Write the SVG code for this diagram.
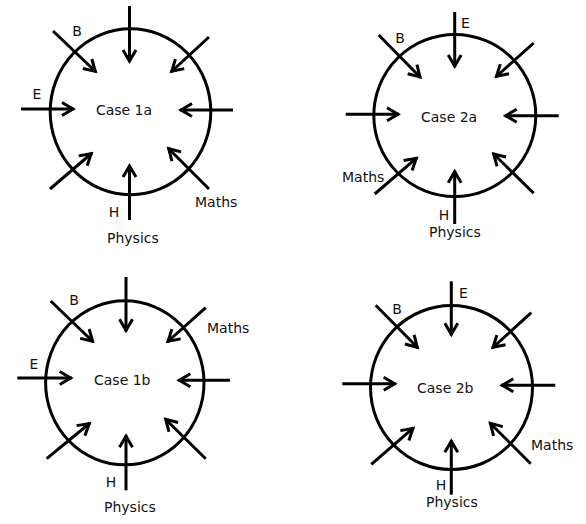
<svg xmlns="http://www.w3.org/2000/svg" width="586" height="524" viewBox="0 0 586 524">
<style>
.ring{fill:none;stroke:#000;stroke-width:3}
.arr{fill:none;stroke:#000;stroke-width:3;marker-end:url(#ah)}
text{font-family:"DejaVu Sans","Verdana",sans-serif;font-size:14px;fill:#111}
.c{text-anchor:middle}
</style>
<defs>
<marker id="ah" markerUnits="userSpaceOnUse" markerWidth="30" markerHeight="30" refX="0" refY="0" orient="auto" viewBox="-20 -15 30 30" overflow="visible">
<path d="M-12,-6.5 L-1,0 L-12,6.5" fill="none" stroke="#000" stroke-width="3" stroke-linejoin="miter"/>
</marker>
</defs>
<rect width="586" height="524" fill="#fff"/>

<g id="case1a">
<ellipse class="ring" cx="130.5" cy="111.7" rx="80.3" ry="83"/>
<text x="124" y="115" class="c">Case 1a</text>
<text x="77" y="36" class="c">B</text>
<text x="37" y="99" class="c">E</text>
<text x="195" y="207">Maths</text>
<text x="114" y="217" class="c">H</text>
<text x="107" y="243">Physics</text>
</g>

<g id="case2a">
<ellipse class="ring" cx="454.8" cy="115.5" rx="81" ry="81"/>
<text x="421" y="122">Case 2a</text>
<text x="400" y="43" class="c">B</text>
<text x="461" y="28">E</text>
<text x="342" y="182">Maths</text>
<text x="444" y="220" class="c">H</text>
<text x="429" y="237">Physics</text>
</g>

<g id="case1b">
<ellipse class="ring" cx="124.8" cy="382.8" rx="79.2" ry="82"/>
<text x="94" y="385">Case 1b</text>
<text x="74" y="305" class="c">B</text>
<text x="34" y="369" class="c">E</text>
<text x="207" y="333">Maths</text>
<text x="111" y="487" class="c">H</text>
<text x="104" y="512">Physics</text>
</g>

<g id="case2b">
<ellipse class="ring" cx="451.5" cy="387.5" rx="81" ry="82"/>
<text x="417" y="393">Case 2b</text>
<text x="397" y="314" class="c">B</text>
<text x="459" y="298">E</text>
<text x="531" y="450">Maths</text>
<text x="441" y="490" class="c">H</text>
<text x="426" y="507">Physics</text>
</g>

<g id="connectors">
<!-- case 1a -->
<line class="arr" x1="129.5" y1="6" x2="129.5" y2="62"/>
<line class="arr" x1="209" y1="37" x2="171" y2="72"/>
<line class="arr" x1="233" y1="110" x2="180" y2="110"/>
<line class="arr" x1="209" y1="189" x2="168" y2="148"/>
<line class="arr" x1="129.5" y1="220" x2="129.5" y2="165"/>
<line class="arr" x1="50" y1="189" x2="92" y2="153"/>
<line class="arr" x1="21" y1="109" x2="74" y2="109"/>
<line class="arr" x1="53" y1="31" x2="96" y2="72"/>
<!-- case 2a -->
<line class="arr" x1="454.7" y1="12" x2="454.7" y2="67"/>
<line class="arr" x1="533.7" y1="43" x2="495.7" y2="77"/>
<line class="arr" x1="558.7" y1="115.7" x2="504.7" y2="115.7"/>
<line class="arr" x1="533.7" y1="193.3" x2="493" y2="153.3"/>
<line class="arr" x1="454.7" y1="224" x2="454.7" y2="170.7"/>
<line class="arr" x1="374.7" y1="194" x2="417" y2="157.7"/>
<line class="arr" x1="345.7" y1="114.3" x2="399" y2="114.3"/>
<line class="arr" x1="378.7" y1="35" x2="420.7" y2="77.7"/>
<!-- case 1b -->
<line class="arr" x1="126" y1="277" x2="126" y2="331.3"/>
<line class="arr" x1="205.7" y1="307.7" x2="167.3" y2="342"/>
<line class="arr" x1="230" y1="380.3" x2="178.3" y2="380.3"/>
<line class="arr" x1="205.7" y1="458.7" x2="165" y2="418.7"/>
<line class="arr" x1="126" y1="490.3" x2="126" y2="435.3"/>
<line class="arr" x1="46.7" y1="458.7" x2="90" y2="423"/>
<line class="arr" x1="17.3" y1="378" x2="71.7" y2="378"/>
<line class="arr" x1="50.7" y1="301" x2="93.3" y2="342"/>
<!-- case 2b -->
<line class="arr" x1="451.3" y1="281.3" x2="451.3" y2="335.3"/>
<line class="arr" x1="531.3" y1="312.7" x2="492.3" y2="348"/>
<line class="arr" x1="555.3" y1="385.3" x2="501.3" y2="385.3"/>
<line class="arr" x1="530.7" y1="463.7" x2="489.7" y2="422.7"/>
<line class="arr" x1="451.3" y1="494.7" x2="451.3" y2="440.3"/>
<line class="arr" x1="371.3" y1="464.3" x2="413.7" y2="427.7"/>
<line class="arr" x1="342.3" y1="383.7" x2="395.7" y2="383.7"/>
<line class="arr" x1="375.7" y1="305.3" x2="418" y2="348"/>
</g>
</svg>
